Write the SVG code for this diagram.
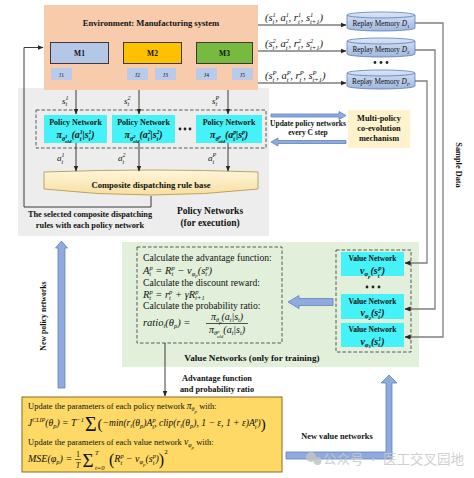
<svg xmlns="http://www.w3.org/2000/svg" width="474" height="478" viewBox="0 0 474 478">
<defs>
<style>
text{font-family:"Liberation Serif","Times New Roman",serif;fill:#111}
.b{font-weight:bold}
.i{font-style:italic}
.n{font-style:normal}
.s5{font-size:5px}.s6{font-size:6px}.s65{font-size:6.5px}
.conn{fill:none;stroke:#262626;stroke-width:0.9}
.gl{fill:none;stroke:#7f7f7f;stroke-width:1.3}
.dash{fill:none;stroke:#595959;stroke-width:1;stroke-dasharray:3.5 2}
.cy{fill:#45F2F8}
.ba{fill:#8FAADC;stroke:#5F82C2;stroke-width:0.8}
.jb{fill:#B9CBEA}
.mem{fill:url(#gm);stroke:#5B7DB8;stroke-width:0.8}
.dot{fill:#222}
</style>
<marker id="ah" markerUnits="userSpaceOnUse" markerWidth="6" markerHeight="6" refX="5.5" refY="3" orient="auto"><path d="M0,0.6 L6,3 L0,5.4 z" fill="#262626"/></marker>
<linearGradient id="gm" x1="0" y1="0" x2="0" y2="1"><stop offset="0" stop-color="#DCE6F5"/><stop offset="1" stop-color="#9FB6E0"/></linearGradient>
<linearGradient id="gc" x1="0" y1="0" x2="0" y2="1"><stop offset="0" stop-color="#FFF6DA"/><stop offset="1" stop-color="#F8DFA2"/></linearGradient>
</defs>

<g id="policy-panel">
<rect x="18" y="88" width="251" height="148" fill="#EDEDED"/>
<rect class="dash" x="36" y="110" width="230" height="38"/>
<text class="b" x="90" y="217" font-size="8.3" text-anchor="middle">The selected composite dispatching</text>
<text class="b" x="90" y="228" font-size="8.3" text-anchor="middle">rules with each policy network</text>
<text class="b" x="210" y="214" font-size="9.5" text-anchor="middle">Policy Networks</text>
<text class="b" x="210" y="226" font-size="9.5" text-anchor="middle">(for execution)</text>
</g>

<g id="value-panel">
<rect x="122" y="242" width="297" height="125" fill="#E2EFDA"/>
<rect class="dash" x="137" y="247" width="145" height="96"/>
<rect class="dash" x="336" y="250" width="75" height="102"/>
<text class="b" x="252" y="361" font-size="9.2" text-anchor="middle">Value Networks (only for training)</text>
</g>

<g id="environment">
<rect x="44" y="5" width="214" height="85" fill="#F8CBAD"/>
<text class="b" x="151" y="26" font-size="8.6" text-anchor="middle">Environment: Manufacturing system</text>
<g id="m1"><rect x="50.5" y="42.5" width="58" height="21" fill="#B4C7E7" stroke="#3a3a3a"/><text class="b" x="79.5" y="56" font-size="7.5" text-anchor="middle">M1</text></g>
<g id="m2"><rect x="123.5" y="42.5" width="58" height="21" fill="#FFC000" stroke="#3a3a3a"/><text class="b" x="152.5" y="56" font-size="7.5" text-anchor="middle">M2</text></g>
<g id="m3"><rect x="196.5" y="42.5" width="56" height="21" fill="#76BB40" stroke="#3a3a3a"/><text class="b" x="224.5" y="56" font-size="7.5" text-anchor="middle">M3</text></g>
<g id="j1"><rect class="jb" x="51" y="68" width="21" height="12"/><text x="61.5" y="76.5" font-size="5.5" text-anchor="middle">J1</text></g>
<g id="j2"><rect class="jb" x="127" y="68" width="21" height="12"/><text x="137.5" y="76.5" font-size="5.5" text-anchor="middle">J2</text></g>
<g id="j3"><rect class="jb" x="155" y="68" width="21" height="12"/><text x="165.5" y="76.5" font-size="5.5" text-anchor="middle">J3</text></g>
<g id="j4"><rect class="jb" x="196" y="68" width="21" height="12"/><text x="206.5" y="76.5" font-size="5.5" text-anchor="middle">J4</text></g>
<g id="j5"><rect class="jb" x="232" y="68" width="21" height="12"/><text x="242.5" y="76.5" font-size="5.5" text-anchor="middle">J5</text></g>
</g>

<g id="policy-network-1">
<rect class="cy" x="44" y="115" width="63" height="28"/>
<text class="b" x="75.5" y="125" font-size="8" text-anchor="middle">Policy Network</text>
<text class="b i" x="75.5" y="138" font-size="10" text-anchor="middle">π<tspan class="s6" dy="2.5">θ</tspan><tspan class="s5" dy="-3">1</tspan><tspan class="s5" dx="-2.5" dy="5">old</tspan><tspan dy="-4.5">(a</tspan><tspan class="s6" dy="-4">1</tspan><tspan class="s6" dx="-3" dy="6.5">t</tspan><tspan dy="-2.5" dx="1">|s</tspan><tspan class="s6" dy="-4">1</tspan><tspan class="s6" dx="-3" dy="6.5">t</tspan><tspan dy="-2.5" dx="1">)</tspan></text>
</g>
<g id="policy-network-2">
<rect class="cy" x="112" y="115" width="63" height="28"/>
<text class="b" x="143.5" y="125" font-size="8" text-anchor="middle">Policy Network</text>
<text class="b i" x="143.5" y="138" font-size="10" text-anchor="middle">π<tspan class="s6" dy="2.5">θ</tspan><tspan class="s5" dy="-3">2</tspan><tspan class="s5" dx="-2.5" dy="5">old</tspan><tspan dy="-4.5">(a</tspan><tspan class="s6" dy="-4">2</tspan><tspan class="s6" dx="-3" dy="6.5">t</tspan><tspan dy="-2.5" dx="1">|s</tspan><tspan class="s6" dy="-4">2</tspan><tspan class="s6" dx="-3" dy="6.5">t</tspan><tspan dy="-2.5" dx="1">)</tspan></text>
</g>
<g id="policy-network-p">
<rect class="cy" x="196" y="115" width="66" height="28"/>
<text class="b" x="229" y="125" font-size="8" text-anchor="middle">Policy Network</text>
<text class="b i" x="229" y="138" font-size="10" text-anchor="middle">π<tspan class="s6" dy="2.5">θ</tspan><tspan class="s5" dy="-3">p</tspan><tspan class="s5" dx="-2.5" dy="5">old</tspan><tspan dy="-4.5">(a</tspan><tspan class="s6" dy="-4">p</tspan><tspan class="s6" dx="-3" dy="6.5">t</tspan><tspan dy="-2.5" dx="1">|s</tspan><tspan class="s6" dy="-4">p</tspan><tspan class="s6" dx="-3" dy="6.5">t</tspan><tspan dy="-2.5" dx="1">)</tspan></text>
</g>
<g id="policy-dots"><circle class="dot" cx="180" cy="129" r="1.4"/><circle class="dot" cx="185" cy="129" r="1.4"/><circle class="dot" cx="190" cy="129" r="1.4"/></g>

<g id="composite-rule-base">
<path d="M44,172 Q151,168 258,172 L258,189 Q151,201 44,189 Z" fill="url(#gc)" stroke="#B89A5A" stroke-width="0.9"/>
<text class="b" x="151" y="187.5" font-size="8.6" text-anchor="middle">Composite dispatching rule base</text>
</g>

<g id="multi-policy">
<rect x="348" y="110" width="62" height="38" fill="#FFF2CC"/>
<text class="b" x="379" y="121" font-size="8.3" text-anchor="middle">Multi-policy</text>
<text class="b" x="379" y="131" font-size="8.3" text-anchor="middle">co-evolution</text>
<text class="b" x="379" y="141" font-size="8.3" text-anchor="middle">mechanism</text>
</g>

<g id="replay-memory-1">
<path class="mem" d="M347,15 A34,3 0 0 1 415,15 V28 A34,3 0 0 1 347,28 Z"/>
<path d="M347,15 A34,3 0 0 0 415,15" fill="none" stroke="#5B7DB8" stroke-width="0.8"/>
<text x="381" y="26" font-size="7.3" text-anchor="middle">Replay Memory <tspan class="i">D</tspan><tspan class="s5" dy="1.5">1</tspan></text>
</g>
<g id="replay-memory-2">
<path class="mem" d="M347,41 A34,3 0 0 1 415,41 V54 A34,3 0 0 1 347,54 Z"/>
<path d="M347,41 A34,3 0 0 0 415,41" fill="none" stroke="#5B7DB8" stroke-width="0.8"/>
<text x="381" y="52" font-size="7.3" text-anchor="middle">Replay Memory <tspan class="i">D</tspan><tspan class="s5" dy="1.5">2</tspan></text>
</g>
<g id="replay-dots"><circle class="dot" cx="375" cy="62.5" r="1.4"/><circle class="dot" cx="381" cy="62.5" r="1.4"/><circle class="dot" cx="387" cy="62.5" r="1.4"/></g>
<g id="replay-memory-p">
<path class="mem" d="M347,73 A34,3 0 0 1 415,73 V86 A34,3 0 0 1 347,86 Z"/>
<path d="M347,73 A34,3 0 0 0 415,73" fill="none" stroke="#5B7DB8" stroke-width="0.8"/>
<text x="381" y="84" font-size="7.3" text-anchor="middle">Replay Memory <tspan class="i">D</tspan><tspan class="s5 i" dy="1.5">P</tspan></text>
</g>

<g id="value-network-p">
<rect class="cy" x="341" y="252" width="63" height="24"/>
<text class="b" x="372.5" y="260.5" font-size="7.5" text-anchor="middle">Value Network</text>
<text class="b i" x="372.5" y="274" font-size="10" text-anchor="middle">v<tspan class="s6" dy="2">φ</tspan><tspan class="s5" dy="1.5">p</tspan><tspan dy="-3.5">(s</tspan><tspan class="s6" dy="-3.5">P</tspan><tspan class="s6" dx="-3.6" dy="7.5">t</tspan><tspan dy="-4" dx="2.3">)</tspan></text>
</g>
<g id="value-dots"><circle class="dot" cx="367" cy="287" r="1.4"/><circle class="dot" cx="373" cy="287" r="1.4"/><circle class="dot" cx="379" cy="287" r="1.4"/></g>
<g id="value-network-2">
<rect class="cy" x="341" y="294" width="63" height="25"/>
<text class="b" x="372.5" y="303.5" font-size="7.5" text-anchor="middle">Value Network</text>
<text class="b i" x="372.5" y="316" font-size="10" text-anchor="middle">v<tspan class="s6" dy="2">φ</tspan><tspan class="s5" dy="1.5">2</tspan><tspan dy="-3.5">(s</tspan><tspan class="s6" dy="-3.5">2</tspan><tspan class="s6" dx="-3" dy="6">t</tspan><tspan dy="-2.5" dx="1.3">)</tspan></text>
</g>
<g id="value-network-1">
<rect class="cy" x="341" y="323" width="63" height="24"/>
<text class="b" x="372.5" y="332" font-size="7.5" text-anchor="middle">Value Network</text>
<text class="b i" x="372.5" y="344.5" font-size="10" text-anchor="middle">v<tspan class="s6" dy="2">φ</tspan><tspan class="s5" dy="1.5">1</tspan><tspan dy="-3.5">(s</tspan><tspan class="s6" dy="-3.5">1</tspan><tspan class="s6" dx="-3" dy="6">t</tspan><tspan dy="-2.5" dx="1.3">)</tspan></text>
</g>

<g id="calculation">
<text x="143" y="261" font-size="9.6">Calculate the advantage function:</text>
<text class="i" x="143" y="273.5" font-size="10.5">A<tspan class="s65" dy="-4">p</tspan><tspan class="s65" dx="-3.3" dy="6.5">t</tspan><tspan dy="-2.5" dx="1.5"> = R</tspan><tspan class="s65" dy="-4">p</tspan><tspan class="s65" dx="-3.3" dy="6.5">t</tspan><tspan dy="-2.5" dx="1.5"> − v</tspan><tspan class="s65" dy="2">φ</tspan><tspan class="s5" dy="1.5">p</tspan><tspan dy="-3.5">(s</tspan><tspan class="s65" dy="-4">p</tspan><tspan class="s65" dx="-3.3" dy="6.5">t</tspan><tspan dy="-2.5" dx="1.3">)</tspan></text>
<text x="143" y="285.5" font-size="9.6">Calculate the discount reward:</text>
<text class="i" x="143" y="297.5" font-size="10.5">R<tspan class="s65" dy="-4">p</tspan><tspan class="s65" dx="-3.3" dy="6.5">t</tspan><tspan dy="-2.5" dx="1.5"> = r</tspan><tspan class="s65" dy="-4">p</tspan><tspan class="s65" dx="-3.3" dy="6.5">t</tspan><tspan dy="-2.5" dx="1.5"> + γR</tspan><tspan class="s65" dy="-4">p</tspan><tspan class="s65" dx="-3.3" dy="6.5">t+1</tspan></text>
<text x="143" y="309" font-size="9.6">Calculate the probability ratio:</text>
<text class="i" x="143" y="326" font-size="10.5">ratio<tspan class="s65" dy="2">t</tspan><tspan dy="-2">(θ</tspan><tspan class="s65" dy="2">p</tspan><tspan dy="-2">) =</tspan></text>
<text class="i" x="227" y="320" font-size="10" text-anchor="middle">π<tspan class="s6" dy="2">θ</tspan><tspan class="s5" dy="1.5">p</tspan><tspan dy="-3.5">(a</tspan><tspan class="s6" dy="2">t</tspan><tspan dy="-2">|s</tspan><tspan class="s6" dy="2">t</tspan><tspan dy="-2">)</tspan></text>
<line x1="206" y1="323.5" x2="248" y2="323.5" stroke="#111" stroke-width="0.7"/>
<text class="i" x="227" y="333" font-size="10" text-anchor="middle">π<tspan class="s6" dy="2">θ</tspan><tspan class="s5" dy="-2.5">p</tspan><tspan class="s5" dx="-2.5" dy="5">old</tspan><tspan dy="-4.5">(a</tspan><tspan class="s6" dy="2">t</tspan><tspan dy="-2">|s</tspan><tspan class="s6" dy="2">t</tspan><tspan dy="-2">)</tspan></text>
</g>

<g id="update-box">
<rect x="22" y="397" width="260" height="75" fill="#FFD966" stroke="#8C6D1F" stroke-width="1"/>
<text x="28" y="409" font-size="8.5">Update the parameters of each policy network  <tspan class="i" font-size="9.5">π</tspan><tspan class="i s6" dy="2">θ</tspan><tspan class="i s5" dy="1.5">p</tspan><tspan dy="-3.5"> with:</tspan></text>
<text class="i" x="28" y="426" font-size="9.6">J<tspan class="s6" dy="-4">CLIP</tspan><tspan dy="4">(θ</tspan><tspan class="s65" dy="2">p</tspan><tspan dy="-2">) = T</tspan><tspan class="s65" dy="-4">−1</tspan><tspan class="n" font-size="20" dx="1" dy="9">Σ</tspan><tspan class="n" font-size="15" dx="1" dy="-2">(</tspan><tspan dy="-3">−min(r</tspan><tspan class="s65" dy="2">t</tspan><tspan dy="-2">(θ</tspan><tspan class="s65" dy="2">p</tspan><tspan dy="-2">)A</tspan><tspan class="s65" dy="-4">p</tspan><tspan class="s65" dx="-3.3" dy="6.5">t</tspan><tspan dy="-2.5">, clip(r</tspan><tspan class="s65" dy="2">t</tspan><tspan dy="-2">(θ</tspan><tspan class="s65" dy="2">p</tspan><tspan dy="-2">), 1 − ε, 1 + ε)A</tspan><tspan class="s65" dy="-4">p</tspan><tspan class="s65" dx="-3.3" dy="6.5">t</tspan><tspan dy="-2.5" dx="1">)</tspan><tspan class="n" font-size="15" dy="3">)</tspan></text>
<text x="28" y="445" font-size="8.5">Update the parameters of each value network <tspan class="i" font-size="9.5">v</tspan><tspan class="i s6" dy="2">φ</tspan><tspan class="i s5" dy="1.5">p</tspan><tspan dy="-3.5"> with:</tspan></text>
<text class="i" x="28" y="462" font-size="10">MSE(φ<tspan class="s65" dy="2">p</tspan><tspan dy="-2">) =</tspan></text>
<text x="78" y="457" font-size="8" text-anchor="middle">1</text>
<line x1="75" y1="459.5" x2="81" y2="459.5" stroke="#111" stroke-width="0.6"/>
<text class="i" x="78" y="468" font-size="8" text-anchor="middle">T</text>
<text x="82.5" y="467" font-size="19">Σ</text>
<text class="i" x="95" y="454.5" font-size="6.5">T</text>
<text class="i" x="95" y="470" font-size="6.5">t=0</text>
<text class="i" x="109" y="462" font-size="10"><tspan class="n" font-size="16" dy="3">(</tspan><tspan dy="-3">R</tspan><tspan class="s65" dy="-4">p</tspan><tspan class="s65" dx="-3.3" dy="6.5">t</tspan><tspan dy="-2.5" dx="1"> − v</tspan><tspan class="s65" dy="2">φ</tspan><tspan class="s5" dy="1.5">p</tspan><tspan dy="-3.5">(s</tspan><tspan class="s65" dy="-4">p</tspan><tspan class="s65" dx="-3.3" dy="6.5">t</tspan><tspan dy="-2.5" dx="1">)</tspan><tspan class="n" font-size="16" dy="3">)</tspan><tspan class="n" font-size="7" dy="-11">2</tspan></text>
</g>

<g id="connectors">
<path class="conn" d="M76,90 V114" marker-end="url(#ah)"/>
<path class="conn" d="M139,90 V114" marker-end="url(#ah)"/>
<path class="conn" d="M228,90 V114" marker-end="url(#ah)"/>
<path class="conn" d="M76,143 V171" marker-end="url(#ah)"/>
<path class="conn" d="M139,143 V171" marker-end="url(#ah)"/>
<path class="conn" d="M228,143 V171" marker-end="url(#ah)"/>
<path class="conn" d="M151,196 V207 H24 V47.5 H43" marker-end="url(#ah)"/>
<path class="conn" d="M258,25 H346" marker-end="url(#ah)"/>
<path class="conn" d="M258,51 H346" marker-end="url(#ah)"/>
<path class="conn" d="M258,83 H346" marker-end="url(#ah)"/>
<path class="gl" d="M415,23 H443 V337 H410"/>
<path class="gl" d="M415,50 H435 V309 H410"/>
<path class="gl" d="M415,81 H427 V263 H410"/>
<path class="conn" d="M411,337 H405" marker-end="url(#ah)"/>
<path class="conn" d="M411,309 H405" marker-end="url(#ah)"/>
<path class="conn" d="M411,263 H405" marker-end="url(#ah)"/>
<path class="conn" d="M165,343 V396" marker-end="url(#ah)"/>
<polygon class="ba" points="271,114 339,114 339,111.5 346,115.5 339,119.5 339,117 271,117"/>
<polygon class="ba" points="346,140.5 278,140.5 278,138 271,142 278,146 278,143.5 346,143.5"/>
<polygon class="ba" points="288,302 299,295.5 299,298.5 333,298.5 333,305.5 299,305.5 299,308.5"/>
<polygon class="ba" points="58,388 58,248 55.5,248 61.5,241 67.5,248 65,248 65,388"/>
<polygon class="ba" points="286,452 386,452 386,383 381,383 389,375 397,383 392,383 392,459 286,459"/>
</g>

<g id="labels">
<text class="i" x="62" y="103.5" font-size="9">s<tspan class="s6" dy="-4">1</tspan><tspan class="s6" dx="-3" dy="6.5">t</tspan></text>
<text class="i" x="124" y="103.5" font-size="9">s<tspan class="s6" dy="-4">2</tspan><tspan class="s6" dx="-3" dy="6.5">t</tspan></text>
<text class="i" x="212" y="103.5" font-size="9">s<tspan class="s6" dy="-4">P</tspan><tspan class="s6" dx="-3.6" dy="6.5">t</tspan></text>
<text class="i" x="57" y="161" font-size="9">a<tspan class="s6" dy="-4">1</tspan><tspan class="s6" dx="-3" dy="6.5">t</tspan></text>
<text class="i" x="118" y="161" font-size="9">a<tspan class="s6" dy="-4">2</tspan><tspan class="s6" dx="-3" dy="6.5">t</tspan></text>
<text class="i" x="208" y="161" font-size="9">a<tspan class="s6" dy="-4">P</tspan><tspan class="s6" dx="-3.6" dy="6.5">t</tspan></text>
<text class="i" x="265" y="21" font-size="10.5">(s<tspan class="s65" dy="-4">1</tspan><tspan class="s65" dx="-3.3" dy="6.5">t</tspan><tspan dy="-2.5" dx="1">, a</tspan><tspan class="s65" dy="-4">1</tspan><tspan class="s65" dx="-3.3" dy="6.5">t</tspan><tspan dy="-2.5" dx="1">, r</tspan><tspan class="s65" dy="-4">1</tspan><tspan class="s65" dx="-3.3" dy="6.5">t</tspan><tspan dy="-2.5" dx="1">, s</tspan><tspan class="s65" dy="-4">1</tspan><tspan class="s65" dx="-3.3" dy="6.5">t+1</tspan><tspan dy="-2.5">)</tspan></text>
<text class="i" x="265" y="47" font-size="10.5">(s<tspan class="s65" dy="-4">2</tspan><tspan class="s65" dx="-3.3" dy="6.5">t</tspan><tspan dy="-2.5" dx="1">, a</tspan><tspan class="s65" dy="-4">2</tspan><tspan class="s65" dx="-3.3" dy="6.5">t</tspan><tspan dy="-2.5" dx="1">, r</tspan><tspan class="s65" dy="-4">2</tspan><tspan class="s65" dx="-3.3" dy="6.5">t</tspan><tspan dy="-2.5" dx="1">, s</tspan><tspan class="s65" dy="-4">2</tspan><tspan class="s65" dx="-3.3" dy="6.5">t+1</tspan><tspan dy="-2.5">)</tspan></text>
<text class="i" x="265" y="79" font-size="10.5">(s<tspan class="s65" dy="-4">P</tspan><tspan class="s65" dx="-4" dy="6.5">t</tspan><tspan dy="-2.5" dx="1.8">, a</tspan><tspan class="s65" dy="-4">P</tspan><tspan class="s65" dx="-4" dy="6.5">t</tspan><tspan dy="-2.5" dx="1.8">, r</tspan><tspan class="s65" dy="-4">P</tspan><tspan class="s65" dx="-4" dy="6.5">t</tspan><tspan dy="-2.5" dx="1.8">, s</tspan><tspan class="s65" dy="-4">P</tspan><tspan class="s65" dx="-4" dy="6.5">t+1</tspan><tspan dy="-2.5">)</tspan></text>
<text class="b" x="308" y="126" font-size="7.5" text-anchor="middle">Update policy networks</text>
<text class="b" x="308" y="135" font-size="7.5" text-anchor="middle">every C step</text>
<text class="b" transform="translate(456,165) rotate(90)" font-size="8.3" text-anchor="middle">Sample  Data</text>
<text class="b" transform="translate(46,316) rotate(-90)" font-size="7.8" text-anchor="middle">New policy networks</text>
<text class="b" x="217" y="381" font-size="8.3" text-anchor="middle">Advantage function</text>
<text class="b" x="217" y="391.5" font-size="8.3" text-anchor="middle">and probability ratio</text>
<text class="b" x="337" y="439" font-size="8.3" text-anchor="middle">New value networks</text>
</g>

<g id="watermark" opacity="0.85">
<circle cx="311" cy="457" r="5" fill="#C4C4C4"/>
<circle cx="317.5" cy="461" r="4" fill="#C4C4C4"/>
<text x="323" y="464" font-size="13.5" style="fill:#C8C8C8;font-family:'Noto Sans CJK SC','Liberation Sans',sans-serif">公众号 · 医工交叉园地</text>
</g>
</svg>
